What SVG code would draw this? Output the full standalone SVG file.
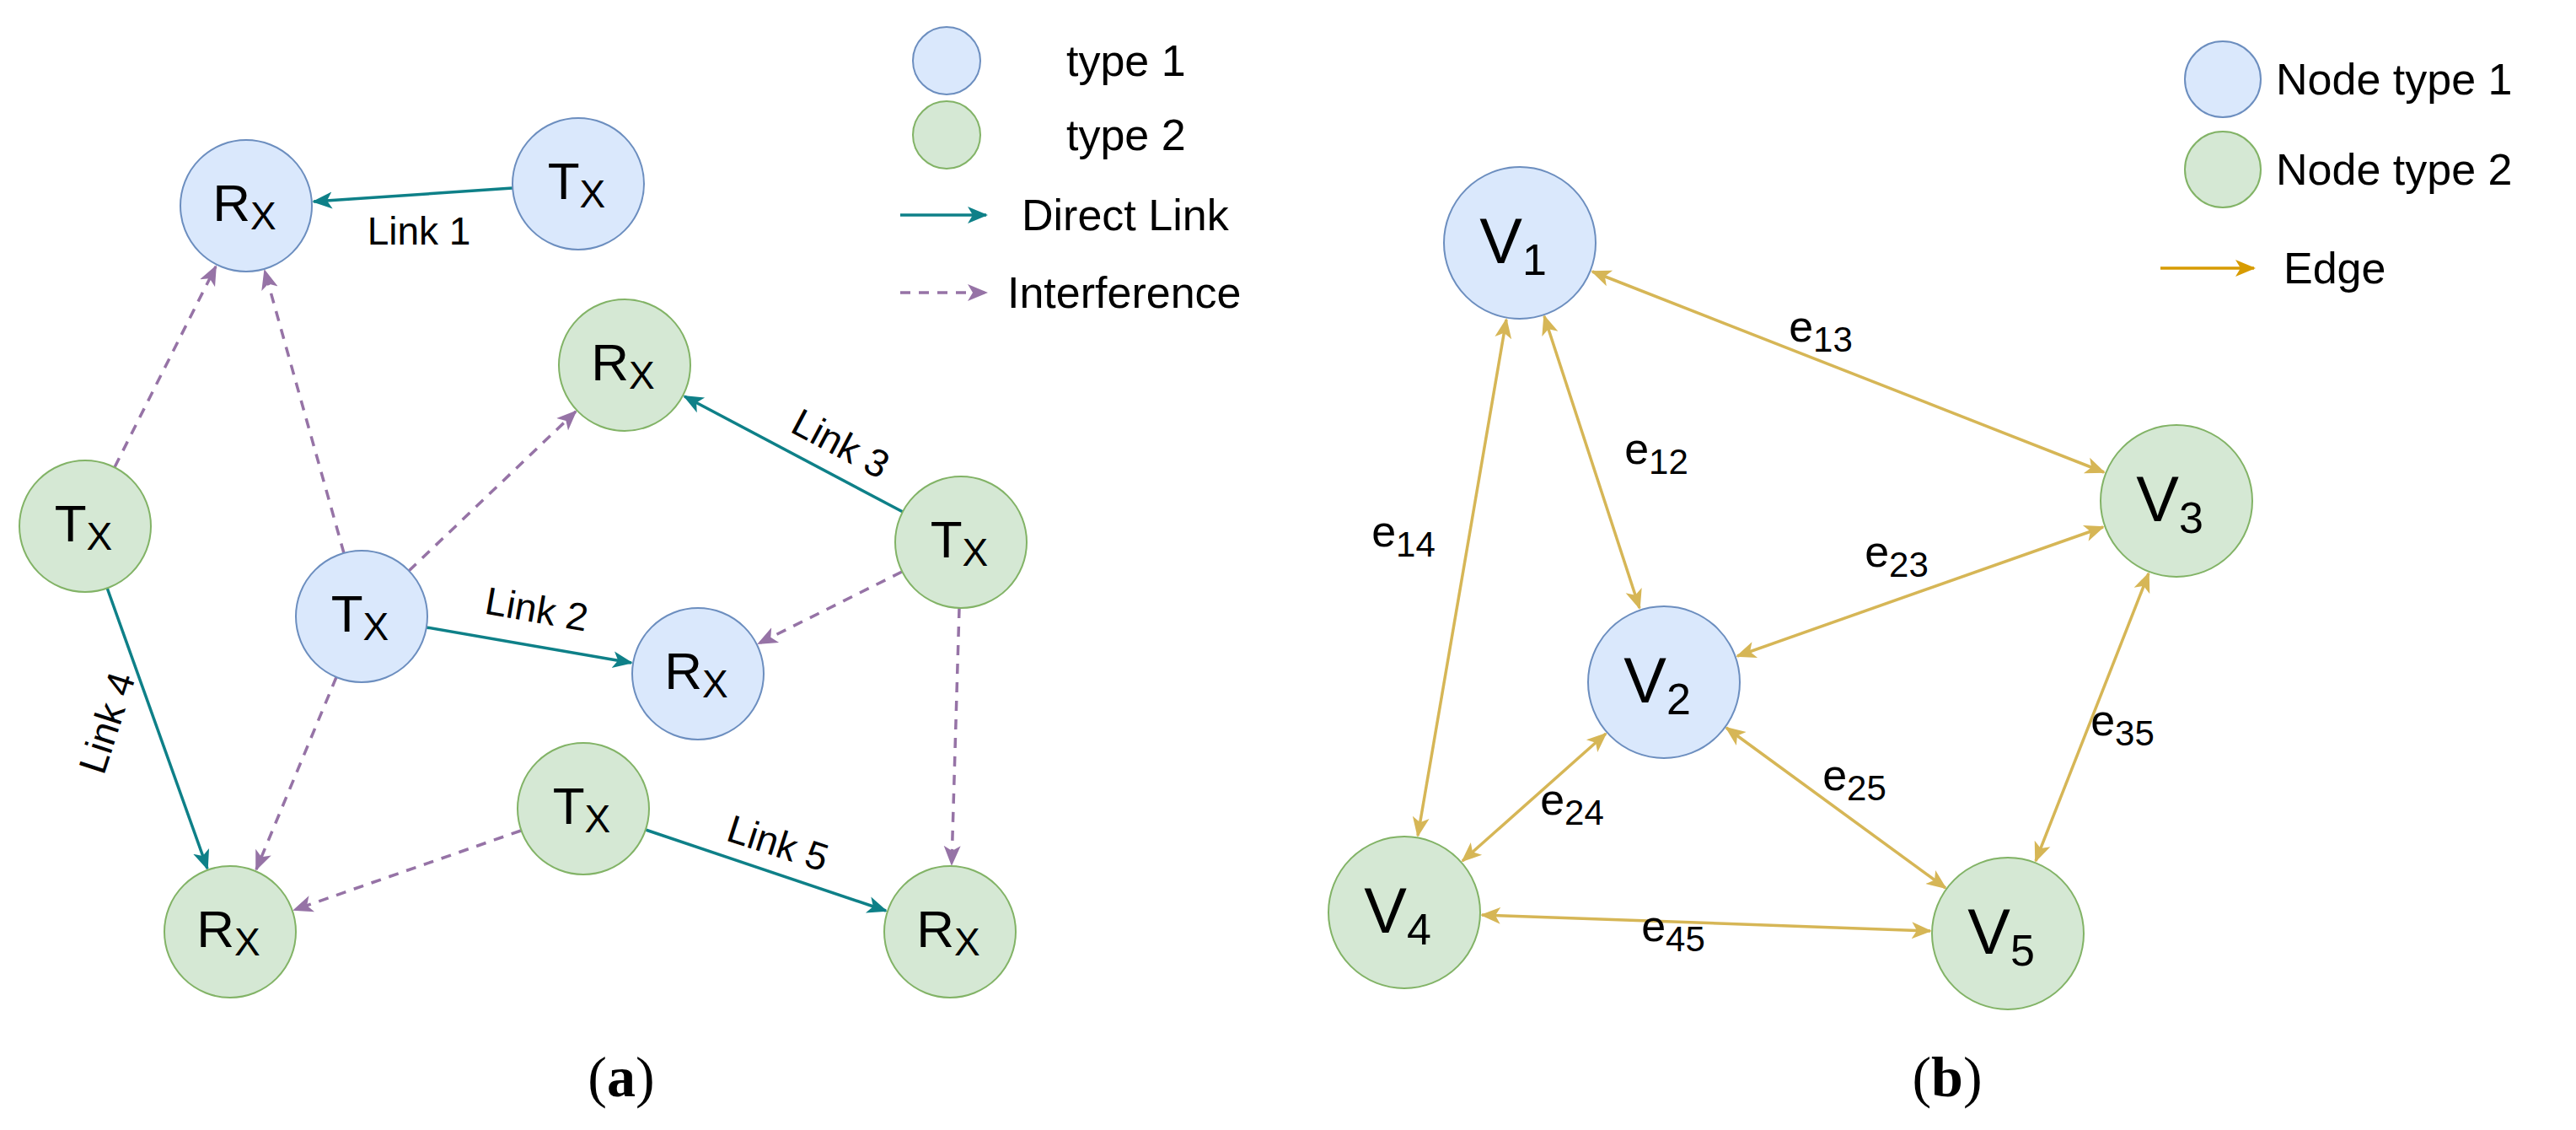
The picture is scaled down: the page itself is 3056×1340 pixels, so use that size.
<svg xmlns="http://www.w3.org/2000/svg" width="3056" height="1340" viewBox="0 0 3056 1340">
<style>
text{font-family:"Liberation Sans",Arial,sans-serif;fill:#000}
.b{fill:#dae8fc;stroke:#6c8ebf;stroke-width:2}
.g{fill:#d5e8d4;stroke:#82b366;stroke-width:2}
.nl{font-size:62px;text-anchor:middle}
.vl{font-size:76px;text-anchor:middle}
.lk{font-size:46px;text-anchor:middle}
.el{font-size:52px;text-anchor:middle}
.lg{font-size:52px}
.cap{font-family:"Liberation Serif","Times New Roman",serif;font-size:68px;text-anchor:middle}
.t{stroke:#0e8088;stroke-width:3.5;fill:none;marker-end:url(#mt)}
.p{stroke:#9673a6;stroke-width:3.5;fill:none;stroke-dasharray:12 10;marker-end:url(#mp)}
.y{stroke:#d6b656;stroke-width:3.5;fill:none;marker-end:url(#my);marker-start:url(#mys)}
</style>
<defs>
<marker id="mt" markerUnits="userSpaceOnUse" markerWidth="30" markerHeight="30" refX="22" refY="12" orient="auto"><path d="M0,2 L24,12 L0,22 L6,12 Z" fill="#0e8088"/></marker>
<marker id="mp" markerUnits="userSpaceOnUse" markerWidth="30" markerHeight="30" refX="22" refY="12" orient="auto"><path d="M0,2 L24,12 L0,22 L6,12 Z" fill="#9673a6"/></marker>
<marker id="my" markerUnits="userSpaceOnUse" markerWidth="30" markerHeight="30" refX="22" refY="12" orient="auto"><path d="M0,2 L24,12 L0,22 L6,12 Z" fill="#d6b656"/></marker>
<marker id="mys" markerUnits="userSpaceOnUse" markerWidth="30" markerHeight="30" refX="22" refY="12" orient="auto-start-reverse"><path d="M0,2 L24,12 L0,22 L6,12 Z" fill="#d6b656"/></marker>
<marker id="mo" markerUnits="userSpaceOnUse" markerWidth="30" markerHeight="30" refX="22" refY="12" orient="auto"><path d="M0,2 L24,12 L0,22 L6,12 Z" fill="#d79b00"/></marker>
</defs>
<g id="connectors">
<line class="t" x1="608" y1="223" x2="372" y2="239"/>
<line class="t" x1="1071" y1="607" x2="812" y2="470"/>
<line class="t" x1="506" y1="744" x2="749" y2="786"/>
<line class="t" x1="127" y1="697" x2="246" y2="1030"/>
<line class="t" x1="766" y1="984" x2="1051" y2="1080"/>
<line class="p" x1="136" y1="554" x2="256" y2="316"/>
<line class="p" x1="408" y1="656" x2="314" y2="321"/>
<line class="p" x1="485" y1="677" x2="683" y2="488"/>
<line class="p" x1="399" y1="803" x2="304" y2="1031"/>
<line class="p" x1="1070" y1="678" x2="900" y2="763"/>
<line class="p" x1="1138" y1="721" x2="1129" y2="1025"/>
<line class="p" x1="618" y1="985" x2="349" y2="1079"/>
<line class="y" x1="1889" y1="322" x2="2496" y2="560"/>
<line class="y" x1="1832" y1="375" x2="1945" y2="721"/>
<line class="y" x1="1787" y1="379" x2="1682" y2="991"/>
<line class="y" x1="2061" y1="778" x2="2495" y2="625"/>
<line class="y" x1="2549" y1="680" x2="2415" y2="1021"/>
<line class="y" x1="1905" y1="870" x2="1735" y2="1021"/>
<line class="y" x1="2048" y1="863" x2="2308" y2="1053"/>
<line class="y" x1="1758" y1="1085" x2="2290" y2="1104"/>
<line x1="1068" y1="255" x2="1170" y2="255" stroke="#0e8088" stroke-width="3.5" marker-end="url(#mt)"/>
<line x1="1068" y1="347" x2="1170" y2="347" stroke="#9673a6" stroke-width="3.5" stroke-dasharray="12 10" marker-end="url(#mp)"/>
<line x1="2563" y1="318" x2="2674" y2="318" stroke="#d79b00" stroke-width="3.5" marker-end="url(#mo)"/>
</g>
<g id="rx1"><circle class="b" cx="292" cy="244" r="78"/><text class="nl" x="290" y="262">R<tspan font-size="46" dy="10">X</tspan></text></g>
<g id="tx1"><circle class="b" cx="686" cy="218" r="78"/><text class="nl" x="684" y="236">T<tspan font-size="46" dy="10">X</tspan></text></g>
<g id="rx3"><circle class="g" cx="741" cy="433" r="78"/><text class="nl" x="739" y="451">R<tspan font-size="46" dy="10">X</tspan></text></g>
<g id="tx4"><circle class="g" cx="101" cy="624" r="78"/><text class="nl" x="99" y="642">T<tspan font-size="46" dy="10">X</tspan></text></g>
<g id="tx2"><circle class="b" cx="429" cy="731" r="78"/><text class="nl" x="427" y="749">T<tspan font-size="46" dy="10">X</tspan></text></g>
<g id="tx3"><circle class="g" cx="1140" cy="643" r="78"/><text class="nl" x="1138" y="661">T<tspan font-size="46" dy="10">X</tspan></text></g>
<g id="rx2"><circle class="b" cx="828" cy="799" r="78"/><text class="nl" x="826" y="817">R<tspan font-size="46" dy="10">X</tspan></text></g>
<g id="tx5"><circle class="g" cx="692" cy="959" r="78"/><text class="nl" x="690" y="977">T<tspan font-size="46" dy="10">X</tspan></text></g>
<g id="rx4"><circle class="g" cx="273" cy="1105" r="78"/><text class="nl" x="271" y="1123">R<tspan font-size="46" dy="10">X</tspan></text></g>
<g id="rx5"><circle class="g" cx="1127" cy="1105" r="78"/><text class="nl" x="1125" y="1123">R<tspan font-size="46" dy="10">X</tspan></text></g>
<g id="link-labels">
<text class="lk" x="497" y="290">Link 1</text>
<text class="lk" transform="translate(634,738) rotate(10)">Link 2</text>
<text class="lk" transform="translate(990,540) rotate(28)">Link 3</text>
<text class="lk" transform="translate(142,862) rotate(-72)">Link 4</text>
<text class="lk" transform="translate(918,1015) rotate(18)">Link 5</text>
</g>
<g id="legend-a">
<circle class="b" cx="1123" cy="72" r="40"/><text class="lg" x="1265" y="90">type 1</text>
<circle class="g" cx="1123" cy="160" r="40"/><text class="lg" x="1265" y="178">type 2</text>
<text class="lg" x="1212" y="273">Direct Link</text>
<text class="lg" x="1195" y="365">Interference</text>
</g>
<text class="cap" x="737" y="1300">(<tspan font-weight="bold">a</tspan>)</text>
<g id="v1"><circle class="b" cx="1803" cy="288" r="90"/><text class="vl" x="1795" y="312">V<tspan font-size="52" dy="14">1</tspan></text></g>
<g id="v2"><circle class="b" cx="1974" cy="809" r="90"/><text class="vl" x="1966" y="833">V<tspan font-size="52" dy="14">2</tspan></text></g>
<g id="v3"><circle class="g" cx="2582" cy="594" r="90"/><text class="vl" x="2574" y="618">V<tspan font-size="52" dy="14">3</tspan></text></g>
<g id="v4"><circle class="g" cx="1666" cy="1082" r="90"/><text class="vl" x="1658" y="1106">V<tspan font-size="52" dy="14">4</tspan></text></g>
<g id="v5"><circle class="g" cx="2382" cy="1107" r="90"/><text class="vl" x="2374" y="1131">V<tspan font-size="52" dy="14">5</tspan></text></g>
<g id="edge-labels">
<text class="el" x="2160" y="405">e<tspan font-size="42" dy="12">13</tspan></text>
<text class="el" x="1965" y="550">e<tspan font-size="42" dy="12">12</tspan></text>
<text class="el" x="1665" y="648">e<tspan font-size="42" dy="12">14</tspan></text>
<text class="el" x="2250" y="672">e<tspan font-size="42" dy="12">23</tspan></text>
<text class="el" x="2518" y="872">e<tspan font-size="42" dy="12">35</tspan></text>
<text class="el" x="1865" y="966">e<tspan font-size="42" dy="12">24</tspan></text>
<text class="el" x="2200" y="937">e<tspan font-size="42" dy="12">25</tspan></text>
<text class="el" x="1985" y="1116">e<tspan font-size="42" dy="12">45</tspan></text>
</g>
<g id="legend-b">
<circle class="b" cx="2637" cy="94" r="45"/><text class="lg" x="2700" y="112">Node type 1</text>
<circle class="g" cx="2637" cy="201" r="45"/><text class="lg" x="2700" y="219">Node type 2</text>
<text class="lg" x="2709" y="336">Edge</text>
</g>
<text class="cap" x="2310" y="1300">(<tspan font-weight="bold">b</tspan>)</text>
</svg>
